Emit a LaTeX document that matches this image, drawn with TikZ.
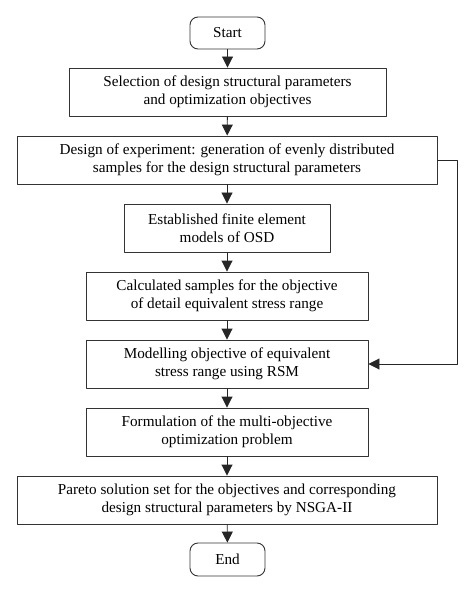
\documentclass[tikz,border=0pt]{standalone}
\usepackage{fontspec}
\setmainfont{Liberation Serif}
\usetikzlibrary{arrows.meta}
\begin{document}
\begin{tikzpicture}[x=1pt,y=-1pt,line join=round,font=\fontsize{15.2}{17.5}\selectfont,
	>={Triangle[width=11pt,length=11pt]},
	stepbox/.style={draw=black!80,line width=0.9pt,align=center,minimum height=48pt,inner sep=0pt},
	termbox/.style={draw=black!80,line width=0.9pt,rounded corners=8pt,minimum width=75pt,minimum height=32pt,inner sep=0pt},
	link/.style={->,draw=black!85,line width=0.9pt}]
		\useasboundingbox (0,0) rectangle (474,593);
		\node[termbox] (start) at (227.5,33) {Start};
		\node[stepbox,minimum width=317pt] (sel) at (227.5,92) {Selection of design structural parameters\\and optimization objectives};
		\node[stepbox,minimum width=420pt] (doe) at (227,160) {Design of experiment: generation of evenly distributed\\samples for the design structural parameters};
		\node[stepbox,minimum width=206pt] (fem) at (227,228) {Established finite element\\models of OSD};
		\node[stepbox,minimum width=282pt] (calc) at (227,296) {Calculated samples for the objective\\of detail equivalent stress range};
		\node[stepbox,minimum width=282pt] (rsm) at (227,364) {Modelling objective of equivalent\\stress range using RSM};
		\node[stepbox,minimum width=282pt] (form) at (227,432) {Formulation of the multi-objective\\optimization problem};
		\node[stepbox,minimum width=420pt] (pareto) at (227,500) {Pareto solution set for the objectives and corresponding\\design structural parameters by NSGA-II};
		\node[termbox,minimum height=33pt] (end) at (227.5,559.5) {End};
		\coordinate (turn) at (457,0);
		\draw[link] (start) -- (sel);
		\draw[link] (sel) -- (doe);
		\draw[link] (doe) -- (fem);
		\draw[link] (fem) -- (calc);
		\draw[link] (calc) -- (rsm);
		\draw[link] (rsm) -- (form);
		\draw[link] (form) -- (pareto);
		\draw[link] (pareto) -- (end);
		\draw[link] (doe.east) -| (turn |- rsm.east) -- (rsm.east);
\end{tikzpicture}
\end{document}
